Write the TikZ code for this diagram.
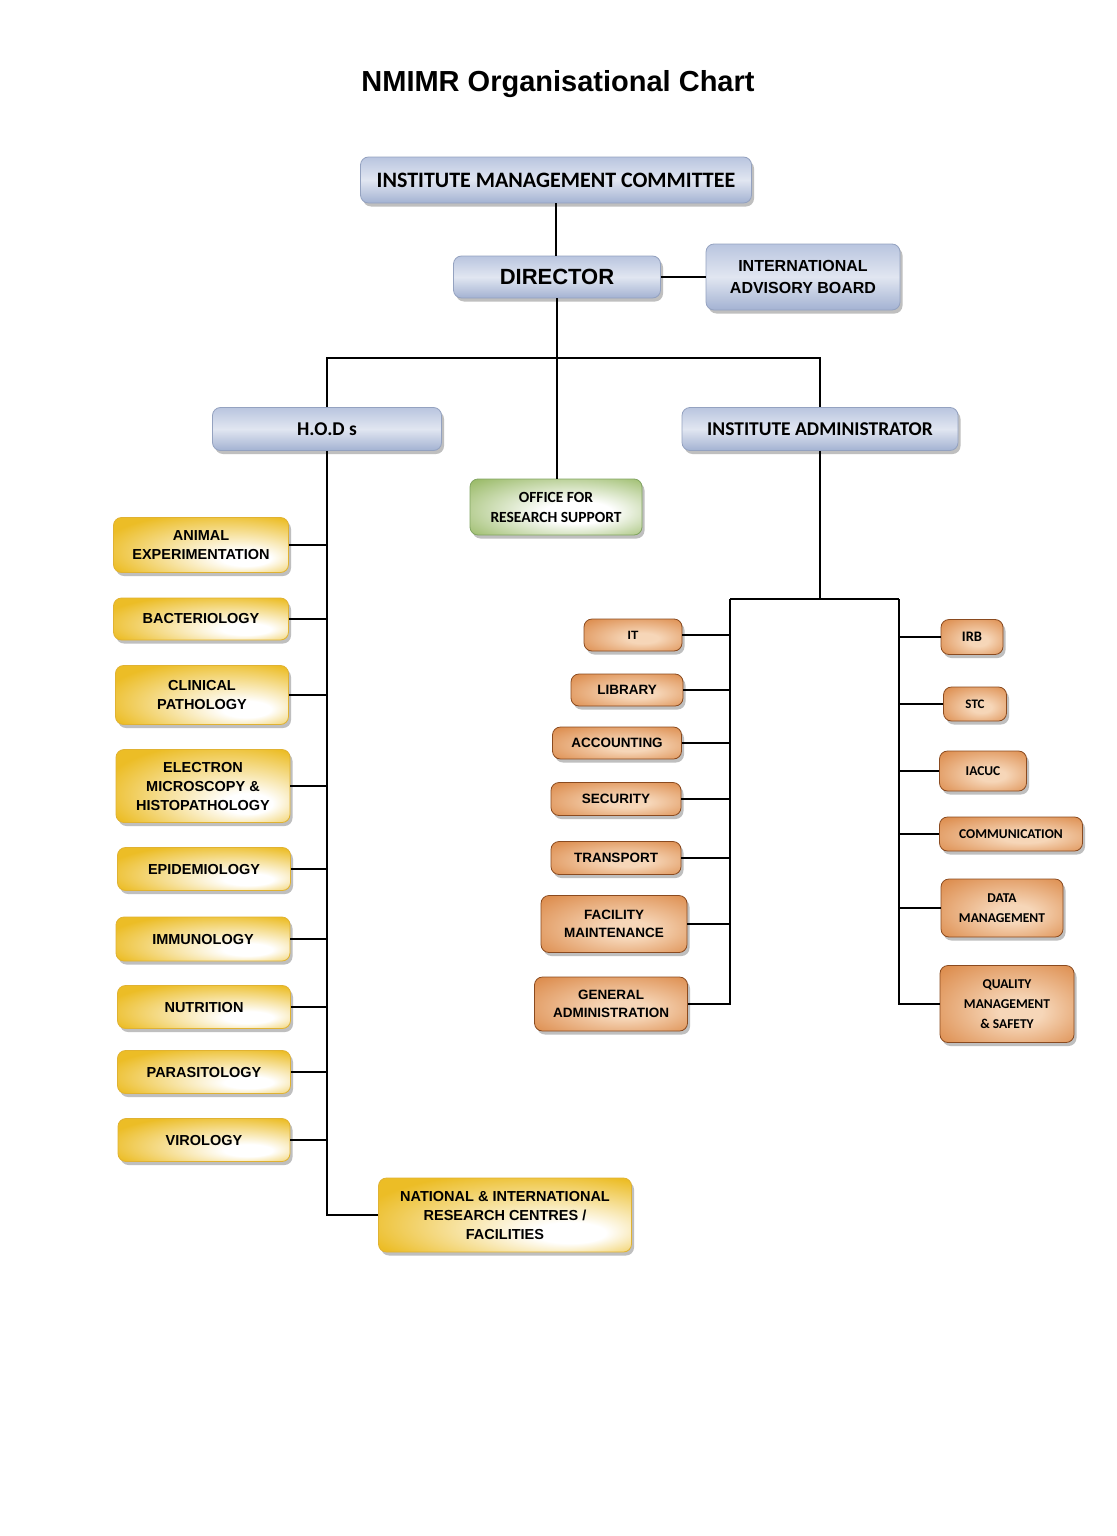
\documentclass[tikz,border=0pt]{standalone}
\usepackage{fontspec}
\setmainfont{Liberation Sans}
\newfontfamily\calibri{Carlito}
\usetikzlibrary{shadows}

\definecolor{bluetop}{HTML}{B9C5DF}
\definecolor{bluemid}{HTML}{E1E6F1}
\definecolor{bluebot}{HTML}{A3B2D2}
\definecolor{blueline}{HTML}{94A2C0}
\definecolor{gold}{HTML}{ECBD26}
\definecolor{goldline}{HTML}{E0B232}
\definecolor{peach}{HTML}{F6D6B8}
\definecolor{orng}{HTML}{D9823E}
\definecolor{orngline}{HTML}{8A4A1F}
\definecolor{leaf}{HTML}{86AD4A}
\definecolor{leafline}{HTML}{82A562}

\pgfdeclareradialshading{goldglow}{\pgfpoint{15bp}{-14bp}}{color(0bp)=(white); color(7bp)=(white); color(34bp)=(gold); color(50bp)=(gold)}
\pgfdeclareradialshading{orangeglow}{\pgfpoint{6bp}{-6bp}}{color(0bp)=(peach); color(8bp)=(peach); color(40bp)=(orng); color(50bp)=(orng)}
\pgfdeclareradialshading{leafglow}{\pgfpoint{8bp}{-6bp}}{color(0bp)=(white); color(10bp)=(white); color(42bp)=(leaf); color(50bp)=(leaf)}

\newcommand\fsz[2]{\fontsize{#1}{#2}\selectfont}

\begin{document}
\begin{tikzpicture}[x=1pt, y=-1pt, line width=1.3pt,
	boxbase/.style={rounded corners=8pt, line width=0.8pt, align=center, inner sep=0pt,
		drop shadow={shadow xshift=2.5pt, shadow yshift=-3.5pt, fill=black!45, opacity=0.55}},
	bluebox/.style={boxbase, draw=blueline, top color=bluetop, bottom color=bluebot, middle color=bluemid},
	greenbox/.style={boxbase, draw=leafline, shading=leafglow},
	yellowbox/.style={boxbase, draw=goldline, shading=goldglow, font=\bfseries\fsz{14.5}{19}},
	orangebox/.style={boxbase, draw=orngline, shading=orangeglow, font=\bfseries\fsz{13.5}{18}},
	calbox/.style={boxbase, draw=orngline, shading=orangeglow, font=\calibri\bfseries\fsz{13.5}{20}},
	sz/.style 2 args={minimum width=#1pt, minimum height=#2pt}]
	\useasboundingbox[fill=white] (0,0) rectangle (1116,1536);

	\node[font=\bfseries\fsz{29}{34}] (title) at (558,84) {NMIMR Organisational Chart};

	% top of the chart
	\node[bluebox, sz={391}{46}, font=\calibri\bfseries\fsz{22}{26}] (imc) at (556,180) {INSTITUTE MANAGEMENT COMMITTEE};
	\node[bluebox, sz={207}{42}, font=\bfseries\fsz{22}{26}] (dir) at (557,277) {DIRECTOR};
	\node[bluebox, sz={194}{66}, font=\bfseries\fsz{16}{22}] (iab) at (803,277) {INTERNATIONAL\\ADVISORY BOARD};
	\node[bluebox, sz={229}{43}, font=\calibri\bfseries\fsz{19.5}{24}] (hods) at (327,429) {H.O.D s};
	\node[bluebox, sz={276}{43}, font=\calibri\bfseries\fsz{19.5}{24}] (admin) at (820,429) {INSTITUTE ADMINISTRATOR};
	\node[greenbox, sz={172}{56}, font=\calibri\bfseries\fsz{15.5}{20}] (ors) at (556,507) {OFFICE FOR\\RESEARCH SUPPORT};

	\draw (imc.south) -- (imc.south |- dir.north);
	\draw (dir.east) -- (iab.west);
	\draw (dir.south) -- (dir.south |- ors.north);
	\draw (hods.north) -- ++(0,-49) -| (admin.north);

	% departments
	\node[yellowbox, sz={175}{55}] (anim) at (201,545) {ANIMAL\\EXPERIMENTATION};
	\node[yellowbox, sz={175}{42}] (bact) at (201,619) {BACTERIOLOGY};
	\node[yellowbox, sz={173}{59}] (clin) at (202,695) {CLINICAL\\PATHOLOGY};
	\node[yellowbox, sz={174}{73}] (elec) at (203,786) {ELECTRON\\MICROSCOPY \&\\HISTOPATHOLOGY};
	\node[yellowbox, sz={173}{43}] (epid) at (204,869) {EPIDEMIOLOGY};
	\node[yellowbox, sz={174}{44}] (immu) at (203,939) {IMMUNOLOGY};
	\node[yellowbox, sz={173}{43}] (nutr) at (204,1007) {NUTRITION};
	\node[yellowbox, sz={173}{43}] (para) at (204,1072) {PARASITOLOGY};
	\node[yellowbox, sz={172}{43}] (viro) at (204,1140) {VIROLOGY};
	\node[yellowbox, sz={253}{74}] (natl) at (505,1215) {NATIONAL \& INTERNATIONAL\\RESEARCH CENTRES /\\FACILITIES};

	\draw (hods.south) |- (natl.west);
	\foreach \n in {anim,bact,clin,elec,epid,immu,nutr,para,viro}
		\draw (\n.east) -- (\n.east -| hods.south);

	% administration
	\coordinate (lbus) at (730,599);
	\coordinate (rbus) at (899,599);
	\draw (admin.south) -- (admin.south |- lbus);
	\draw (lbus) -- (rbus);

	\node[orangebox, sz={98}{32}, font=\bfseries\fsz{12}{14}] (it) at (633,635) {IT};
	\node[orangebox, sz={112}{32}] (lib) at (627,690) {LIBRARY};
	\node[orangebox, sz={129}{32}] (acct) at (617,743) {ACCOUNTING};
	\node[orangebox, sz={130}{33}] (sec) at (616,799) {SECURITY};
	\node[orangebox, sz={130}{33}] (trans) at (616,858) {TRANSPORT};
	\node[orangebox, sz={146}{57}] (facm) at (614,924) {FACILITY\\MAINTENANCE};
	\node[orangebox, sz={153}{54}] (gadm) at (611,1004) {GENERAL\\ADMINISTRATION};

	\node[calbox, sz={62}{35}, font=\calibri\bfseries\fsz{14.5}{18}] (irb) at (972,637) {IRB};
	\node[calbox, sz={63}{34}, font=\calibri\bfseries\fsz{13}{16}] (stc) at (975,704) {STC};
	\node[calbox, sz={87}{40}] (iacuc) at (983,771) {IACUC};
	\node[calbox, sz={143}{34}] (comm) at (1011,834) {COMMUNICATION};
	\node[calbox, sz={122}{58}] (datm) at (1002,908) {DATA\\MANAGEMENT};
	\node[calbox, sz={134}{77}] (qual) at (1007,1004) {QUALITY\\MANAGEMENT\\\& SAFETY};

	\draw (lbus) |- (gadm.east);
	\draw (rbus) |- (qual.west);
	\foreach \n in {it,lib,acct,sec,trans,facm}
		\draw (\n.east) -- (\n.east -| lbus);
	\foreach \n in {irb,stc,iacuc,comm,datm}
		\draw (\n.west) -- (\n.west -| rbus);
\end{tikzpicture}
\end{document}
